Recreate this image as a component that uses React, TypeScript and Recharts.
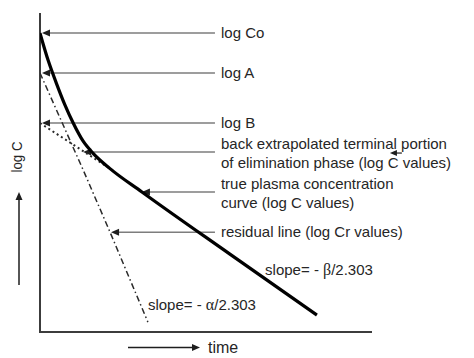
import React from 'react';
import { ComposedChart, Line, XAxis, YAxis, ReferenceLine, ReferenceDot } from 'recharts';

// Plasma concentration (log scale) against time, two-compartment model
const curveTime = [0, 0.25, 0.5, 0.75, 1.0, 1.3, 1.6, 2.1, 3.07, 5.72, 8.34];
const curveLogC = [9.37, 8.5, 7.78, 7.12, 6.55, 5.98, 5.6, 5.13, 4.39, 2.44, 0.53];

// Terminal phase extrapolated back to the y axis (intercept log B)
const backTime = [0, 2.26];
const backLogC = [6.55, 5.02];

// Residual line (intercept log A)
const residualTime = [0, 1.3, 2.11, 3.25];
const residualLogC = [8.12, 5.08, 3.13, 0.31];

// Leader arrows: level on the log C axis, where the arrow tip sits in time, and the text
const leaderLevels = [9.37, 8.12, 6.55, 5.64, 4.39, 3.13];
const leaderTips = [0.06, 0.06, 0.06, 1.3, 3.07, 2.14];
const leaderTexts = [
  ['log Co'],
  ['log A'],
  ['log B'],
  ['back extrapolated terminal portion', 'of elimination phase (log C values)'],
  ['true plasma concentration', 'curve (log C values)'],
  ['residual line (log Cr values)'],
];
const leaderEnd = 5.27;

const slopeBeta = { t: 6.78, logC: 1.79, prefix: 'slope= - ', greek: 'β', suffix: '/2.303' };
const slopeAlpha = { t: 3.25, logC: 0.69, prefix: 'slope= - ', greek: 'α', suffix: '/2.303' };

const toRows = (xs: number[], ys: number[]) => xs.map((t, i) => ({ t, v: ys[i] }));
const curveData = toRows(curveTime, curveLogC);
const backData = toRows(backTime, backLogC);
const residualData = toRows(residualTime, residualLogC);

const FONT = '"Liberation Sans", Arial, sans-serif';
const GREEK_FONT = '"Liberation Serif", "Times New Roman", serif';
const TEXT_COLOR = '#262626';
const LEADER_COLOR = '#7d7d7d';
const HEAD_COLOR = '#1e1e1e';
const AXIS_COLOR = '#3c3c3c';

type Dir = 'left' | 'right' | 'up';
function headPoints(x: number, y: number, dir: Dir, len = 8, half = 3.5) {
  if (dir === 'left') return `${x},${y} ${x + len},${y - half} ${x + len},${y + half}`;
  if (dir === 'right') return `${x},${y} ${x - len},${y - half} ${x - len},${y + half}`;
  return `${x},${y} ${x - half},${y + len} ${x + half},${y + len}`;
}

function makeLeader(lines: string[]) {
  return (p: any) => {
    const { x1, y1, x2, y2 } = p;
    const tipX = Math.min(x1, x2);
    const endX = Math.max(x1, x2);
    const offsets = lines.length === 1 ? [5] : [-3, 16];
    return (
      <g>
        <line x1={tipX + 4} y1={y1} x2={endX} y2={y2} stroke={LEADER_COLOR} strokeWidth={1.5} />
        <polygon points={headPoints(tipX, y1, 'left')} fill={HEAD_COLOR} />
        {lines.map((s, i) => (
          <text
            key={i}
            x={endX + 6}
            y={y1 + offsets[i]}
            fontFamily={FONT}
            fontSize={15}
            fill={TEXT_COLOR}
          >
            {s}
          </text>
        ))}
      </g>
    );
  };
}

function strayArrow(p: any) {
  const { x1, y1, x2 } = p;
  const tipX = Math.min(x1, x2);
  const endX = Math.max(x1, x2);
  return (
    <g>
      <line x1={tipX + 4} y1={y1} x2={endX} y2={y1} stroke={HEAD_COLOR} strokeWidth={1.2} />
      <polygon points={headPoints(tipX, y1, 'left', 7, 3)} fill={HEAD_COLOR} />
    </g>
  );
}

function slopeText(s: typeof slopeBeta) {
  return (p: any) => (
    <text x={p.cx} y={p.cy} fontFamily={FONT} fontSize={15} fill={TEXT_COLOR}>
      {s.prefix}
      <tspan fontFamily={GREEK_FONT} fontSize={16}>{s.greek}</tspan>
      {s.suffix}
    </text>
  );
}

// Horizontal time axis with its arrow and title underneath
function timeAxis(p: any) {
  const { x1, y1, x2 } = p;
  const x = Math.min(x1, x2);
  const ay = y1 + 15.5;
  return (
    <g>
      <line x1={x} y1={y1} x2={Math.max(x1, x2)} y2={y1} stroke={AXIS_COLOR} strokeWidth={2} />
      <line x1={x + 88} y1={ay} x2={x + 154} y2={ay} stroke={HEAD_COLOR} strokeWidth={1.5} />
      <polygon points={headPoints(x + 160, ay, 'right')} fill={HEAD_COLOR} />
      <text x={x + 168} y={y1 + 21} fontFamily={FONT} fontSize={16} fill={TEXT_COLOR}>
        time
      </text>
    </g>
  );
}

// Vertical log C axis with its arrow and rotated title on the left
function logCAxis(p: any) {
  const { x1, y1, y2 } = p;
  const top = Math.min(y1, y2);
  const ax = x1 - 21;
  const tx = x1 - 18;
  const ty = top + 144;
  return (
    <g>
      <line x1={x1} y1={top} x2={x1} y2={Math.max(y1, y2) + 1} stroke={AXIS_COLOR} strokeWidth={2} />
      <line x1={ax} y1={top + 272} x2={ax} y2={top + 184} stroke={HEAD_COLOR} strokeWidth={1.5} />
      <polygon points={headPoints(ax, top + 179, 'up')} fill={HEAD_COLOR} />
      <text
        x={tx}
        y={ty}
        transform={`rotate(-90 ${tx} ${ty})`}
        textAnchor="middle"
        fontFamily={FONT}
        fontSize={15}
        textLength={31}
        lengthAdjust="spacingAndGlyphs"
        fill={TEXT_COLOR}
      >
        log C
      </text>
    </g>
  );
}

export default function App() {
  return (
    <div style={{ position: 'absolute', left: 0, top: 0, background: '#fff' }}>
      <ComposedChart
        width={474}
        height={358}
        margin={{ top: 13, right: 102, bottom: 26, left: 40 }}
      >
        <XAxis type="number" dataKey="t" domain={[0, 10]} hide allowDataOverflow />
        <YAxis type="number" dataKey="v" domain={[0, 10]} hide allowDataOverflow />
        <ReferenceLine x={0} ifOverflow="visible" shape={logCAxis} />
        <ReferenceLine y={0} ifOverflow="visible" shape={timeAxis} />
        {leaderLevels.map((lv, i) => (
          <ReferenceLine
            key={`leader-${i}`}
            segment={[
              { x: leaderTips[i], y: lv },
              { x: leaderEnd, y: lv },
            ]}
            ifOverflow="visible"
            shape={makeLeader(leaderTexts[i])}
          />
        ))}
        <ReferenceLine
          segment={[
            { x: 10.54, y: 5.61 },
            { x: 10.9, y: 5.61 },
          ]}
          ifOverflow="visible"
          shape={strayArrow}
        />
        <Line
          data={residualData}
          dataKey="v"
          type="linear"
          stroke="#2a2a2a"
          strokeWidth={1.5}
          strokeDasharray="6 3 1.5 3"
          dot={false}
          isAnimationActive={false}
        />
        <Line
          data={backData}
          dataKey="v"
          type="linear"
          stroke="#2a2a2a"
          strokeWidth={2}
          strokeDasharray="2 3"
          dot={false}
          isAnimationActive={false}
        />
        <Line
          data={curveData}
          dataKey="v"
          type="monotone"
          stroke="#000"
          strokeWidth={3.2}
          dot={false}
          isAnimationActive={false}
        />
        <ReferenceDot x={slopeBeta.t} y={slopeBeta.logC} r={0} ifOverflow="visible" shape={slopeText(slopeBeta)} />
        <ReferenceDot x={slopeAlpha.t} y={slopeAlpha.logC} r={0} ifOverflow="visible" shape={slopeText(slopeAlpha)} />
      </ComposedChart>
    </div>
  );
}
